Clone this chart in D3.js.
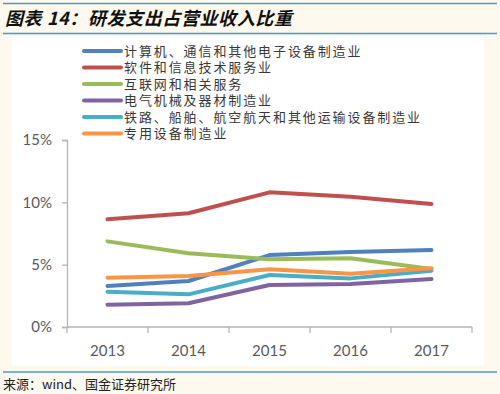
<!DOCTYPE html>
<html><head><meta charset="utf-8">
<script src="https://cdn.jsdelivr.net/npm/d3@7"></script>
<style>
html,body{margin:0;padding:0;background:#fdf9ee;}
svg{display:block;}
</style></head>
<body>
<svg id="c" width="500" height="394"></svg>
<script>
const years = ["2013","2014","2015","2016","2017"];
const seriesNames = [
  "计算机、通信和其他电子设备制造业",
  "软件和信息技术服务业",
  "互联网和相关服务",
  "电气机械及器材制造业",
  "铁路、船舶、航空航天和其他运输设备制造业",
  "专用设备制造业"
];
const seriesColors = ["#4F81BD","#C0504D","#9BBB59","#8064A2","#4BACC6","#F79646"];
const computerVals = [3.29, 3.69, 5.77, 6.01, 6.17];
const softwareVals = [8.64, 9.12, 10.80, 10.45, 9.86];
const internetVals = [6.87, 5.91, 5.43, 5.51, 4.65];
const electricVals = [1.79, 1.90, 3.37, 3.45, 3.85];
const transportVals = [2.83, 2.62, 4.17, 3.90, 4.51];
const specialVals = [3.96, 4.09, 4.63, 4.28, 4.71];
const yTicks = [0, 5, 10, 15];
const titleText = "图表 14：研发支出占营业收入比重";
const sourceText = "来源：wind、国金证券研究所";

const allVals = [computerVals, softwareVals, internetVals, electricVals, transportVals, specialVals];
const svg = d3.select("#c");

// background pieces
svg.append("rect").attr("x",0).attr("y",0).attr("width",500).attr("height",394).attr("fill","#fdf9ee");
svg.append("rect").attr("x",12).attr("y",36).attr("width",472).attr("height",330).attr("fill","#ffffff");

// title lines
[3.5, 33.5, 372].forEach(yy=>{
  svg.append("line").attr("x1",3).attr("x2",497).attr("y1",yy).attr("y2",yy)
    .attr("stroke","#4a9ac8").attr("stroke-width",1.6);
});

svg.append("text").attr("x",5).attr("y",25)
  .attr("font-family","'Noto Sans CJK SC'").attr("font-weight","bold").attr("font-style","italic")
  .attr("font-size",18).attr("letter-spacing","0.6px").attr("fill","#111").text(titleText);

svg.append("text").attr("x",3).attr("y",389)
  .attr("font-family","'Noto Sans CJK SC'").attr("font-size",13).attr("fill","#222").text(sourceText);

// scales
const x = d3.scaleBand().domain(years).range([67, 472]);
const y = d3.scaleLinear().domain([0, 15]).range([327, 140]);

const axisColor = "#b5b5b5";
const tickFont = "Lato, 'Open Sans', sans-serif";

// y axis
const yAxis = svg.append("g").attr("transform","translate(67,0)")
  .call(d3.axisLeft(y).tickValues(yTicks).tickFormat(d=>d+"%").tickSizeOuter(0).tickSize(5).tickPadding(10));
yAxis.select(".domain").attr("stroke",axisColor).attr("stroke-width",1.3);
yAxis.selectAll(".tick line").attr("stroke",axisColor).attr("stroke-width",1.3);
yAxis.selectAll("text").attr("font-family",tickFont).attr("font-size",15).attr("fill","#595959");

// x axis with ticks at band boundaries
const xg = svg.append("g").attr("transform","translate(0,327)");
xg.append("line").attr("x1",67).attr("x2",472).attr("y1",0).attr("y2",0)
  .attr("stroke",axisColor).attr("stroke-width",1.3);
const bounds = years.map(d=>x(d)).concat([x(years[years.length-1]) + x.bandwidth()]);
xg.selectAll("line.tk").data(bounds).enter().append("line").attr("class","tk")
  .attr("x1",d=>d).attr("x2",d=>d).attr("y1",0).attr("y2",6)
  .attr("stroke",axisColor).attr("stroke-width",1.3);
xg.selectAll("text").data(years).enter().append("text")
  .attr("x",d=>x(d)+x.bandwidth()/2).attr("y",29)
  .attr("text-anchor","middle").attr("font-family",tickFont).attr("font-size",15).attr("fill","#595959")
  .text(d=>d);

// lines
const line = d3.line().x((d,i)=>x(years[i])+x.bandwidth()/2).y(d=>y(d));
allVals.forEach((vals,i)=>{
  svg.append("path").datum(vals).attr("d",line)
    .attr("fill","none").attr("stroke",seriesColors[i]).attr("stroke-width",4)
    .attr("stroke-linecap","round").attr("stroke-linejoin","round");
});

// legend
const lg = svg.append("g");
seriesNames.forEach((n,i)=>{
  const cy = 51 + i*16.5;
  lg.append("line").attr("x1",84).attr("x2",121).attr("y1",cy).attr("y2",cy)
    .attr("stroke",seriesColors[i]).attr("stroke-width",4).attr("stroke-linecap","round");
  lg.append("text").attr("x",124).attr("y",cy+4.6)
    .attr("font-family","'DejaVu Sans', 'Noto Sans CJK SC'").attr("font-size",13).attr("letter-spacing","1.9px")
    .attr("fill","#383838").text(n);
});
</script>
</body></html>
